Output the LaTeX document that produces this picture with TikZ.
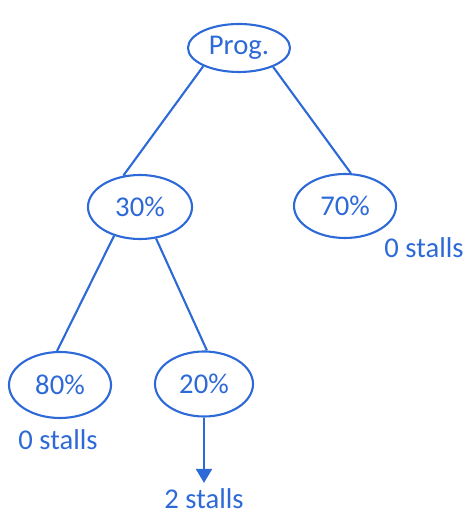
\documentclass[tikz,border=0pt]{standalone}
\usepackage{fontspec}
\setmainfont{Carlito}
\usepackage{tikz}
\usetikzlibrary{shapes.geometric,arrows.meta}
\definecolor{treeblue}{RGB}{45,105,215}

\begin{document}
\begin{tikzpicture}[
    prob/.style={draw=treeblue, ellipse, line width=1.2pt, inner sep=0pt},
    every node/.style={text=treeblue, font=\fontsize{16.3}{19}\selectfont}
  ]
  \useasboundingbox (0,0) rectangle (9.48,10.46);

  % Branch probabilities
  \node[prob, minimum width=2.04cm, minimum height=0.96cm] (prog) at (4.78,9.5) {Prog.};
  \node[prob, minimum width=2.08cm, minimum height=1.28cm] (p30) at (2.8,6.32) {30\%};
  \node[prob, minimum width=2.04cm, minimum height=1.28cm] (p70) at (6.9,6.34) {70\%};
  \node[prob, minimum width=2.04cm, minimum height=1.32cm] (p80) at (1.2,2.76) {80\%};
  \node[prob, minimum width=1.96cm, minimum height=1.3cm] (p20) at (4.08,2.78) {20\%};

  \draw[treeblue, line width=1.2pt] (prog.207) -- (p30.118);
  \draw[treeblue, line width=1.2pt] (prog.331) -- (p70.80);
  \draw[treeblue, line width=1.2pt] (p30.228) -- (p80.95);
  \draw[treeblue, line width=1.2pt] (p30.297) -- (p20.85);

  % Stalls
  \node[anchor=base] (s70) at (8.48,5.3) {0 stalls};
  \node[anchor=base] (s80) at (1.16,1.46) {0 stalls};
  \node[anchor=base] (s20) at (4.08,0.28) {2 stalls};

  \draw[treeblue, line width=1.2pt, -{Triangle[width=0.32cm, length=0.28cm]}] (p20.south) -- (s20.north);
\end{tikzpicture}
\end{document}
